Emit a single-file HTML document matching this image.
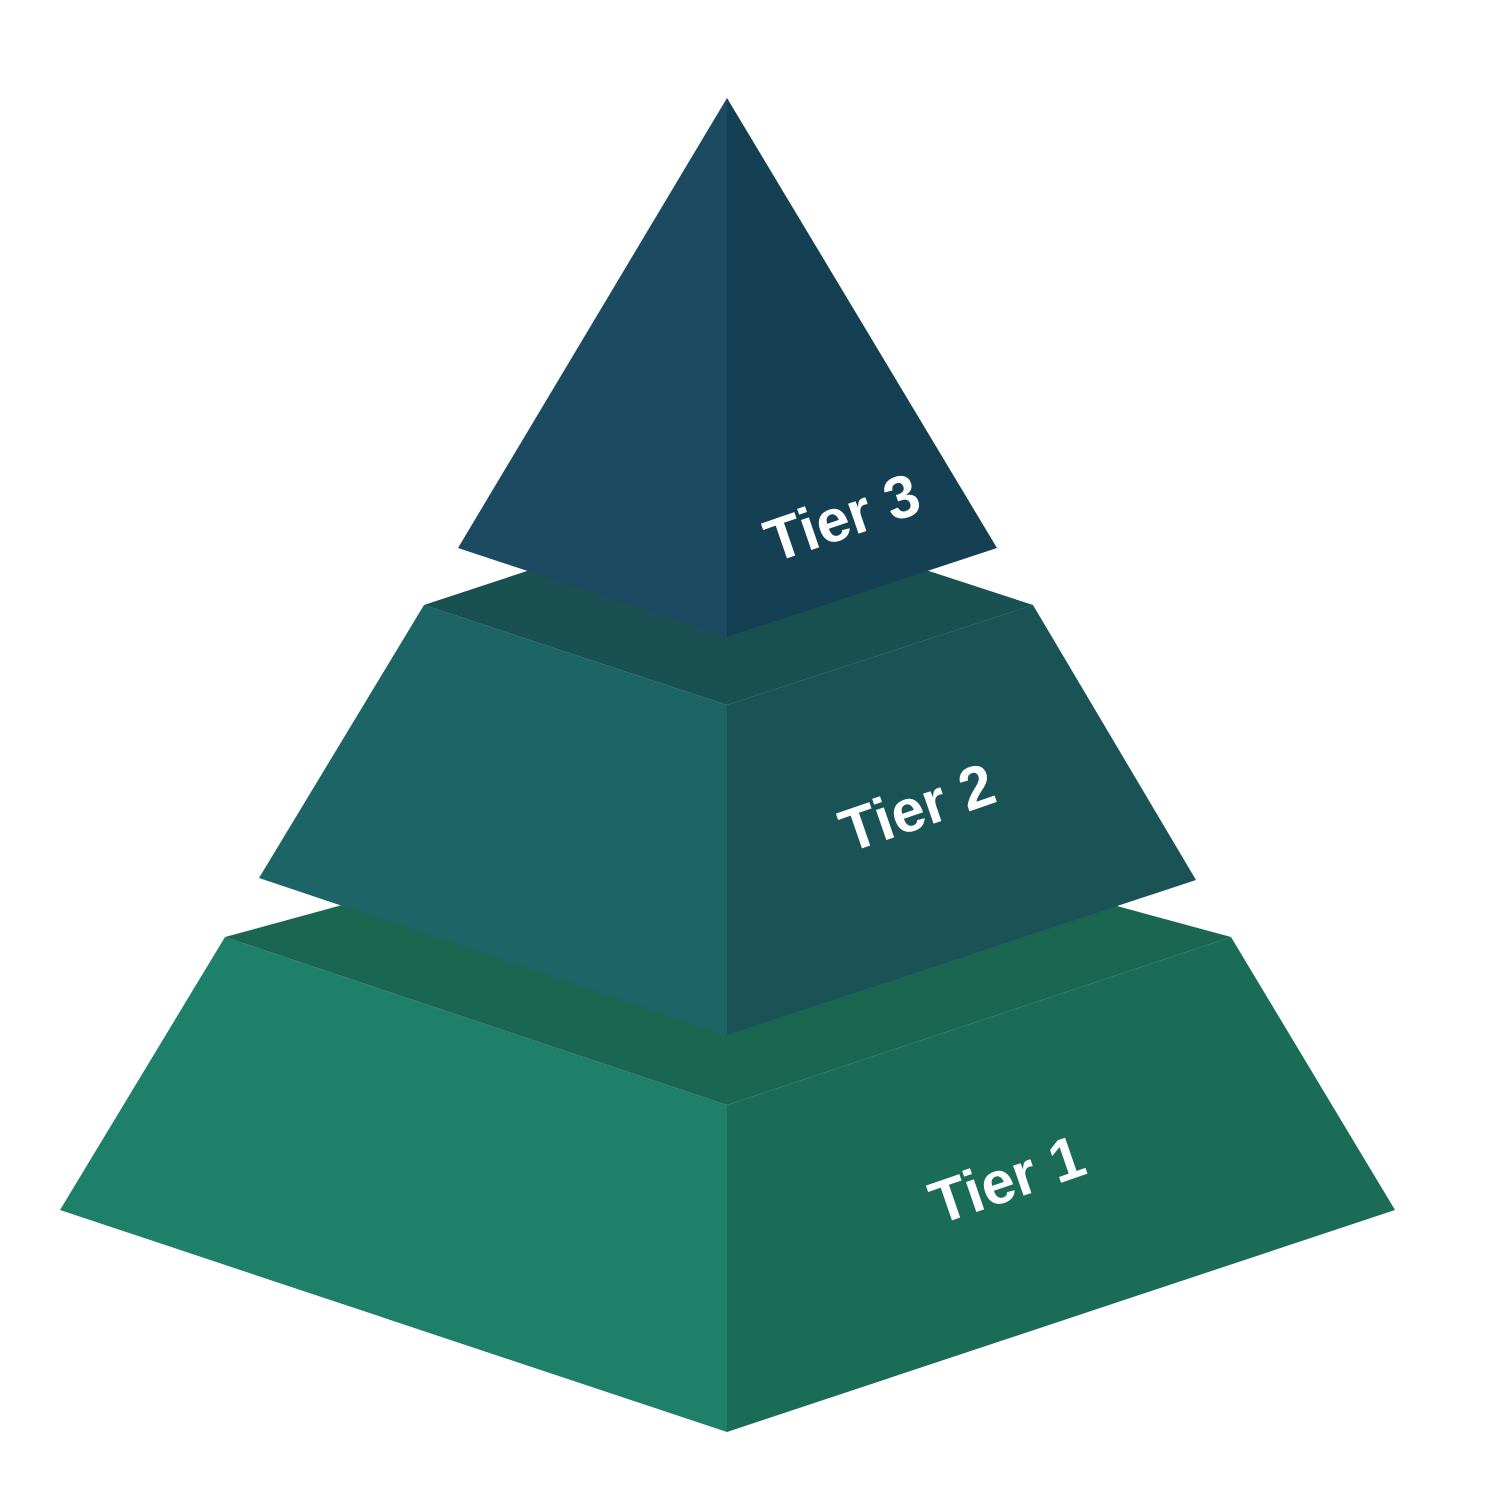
<!DOCTYPE html>
<html><head><style>
html,body{margin:0;padding:0;background:#fff;}
svg{display:block;}
text{font-family:"Liberation Sans",sans-serif;font-weight:bold;fill:#fff;}
</style></head><body>
<svg width="1500" height="1500" viewBox="0 0 1500 1500" xmlns="http://www.w3.org/2000/svg">
<!-- Tier 1 -->
<polygon points="225,937 727,800 1231,937 727,1105" fill="#1a6650"/>
<polygon points="225,937 727,1105 727,1432 60,1210" fill="#1e8068"/>
<polygon points="727,1105 1231,937 1395,1210 727,1432" fill="#1b6c57"/>
<!-- Tier 2 -->
<polygon points="424,605 727,505 1033,605 727,705" fill="#195052"/>
<polygon points="424,605 727,705 727,1035 259,878" fill="#1d6466"/>
<polygon points="727,705 1033,605 1196,880 727,1035" fill="#1a5356"/>
<!-- Tier 3 -->
<polygon points="727,98 727,637 458,548" fill="#1b4a61"/>
<polygon points="727,98 997,548 727,637" fill="#153f53"/>
<text x="843" y="538" font-size="60" text-anchor="middle" transform="rotate(-19 843 520)">Tier 3</text>
<text x="918" y="828" font-size="60" text-anchor="middle" transform="rotate(-19 918 810)">Tier 2</text>
<text x="1008" y="1200" font-size="60" text-anchor="middle" transform="rotate(-19 1008 1182)">Tier 1</text>
</svg>
</body></html>
